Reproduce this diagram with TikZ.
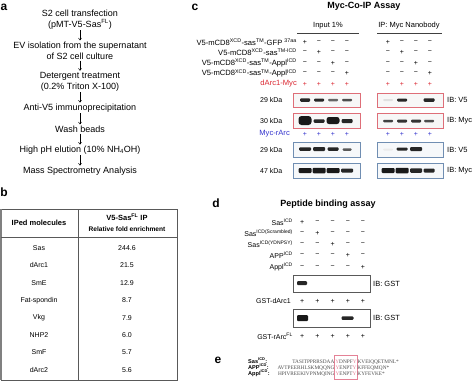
\documentclass[tikz,border=0pt]{standalone}
\usepackage{fontspec}
\setmainfont{Liberation Sans}
\newfontfamily\seqfont{Liberation Serif}
\usetikzlibrary{arrows.meta}

\definecolor{arcred}{RGB}{218,38,48}
\definecolor{arcblue}{RGB}{52,52,205}
\definecolor{boxred}{RGB}{222,110,120}
\definecolor{boxblue}{RGB}{112,142,178}
\definecolor{motifpink}{RGB}{228,130,150}

\tikzset{
  panel/.style={font=\fontsize{12}{12}\selectfont\bfseries, inner sep=0pt},
  title/.style={font=\fontsize{9}{10}\selectfont\bfseries, inner sep=0pt},
  flowtext/.style={align=center, font=\fontsize{9}{11}\selectfont, inner sep=1pt},
  flowarrow/.style={-{Straight Barb[length=2pt,width=3pt]}, line width=0.5pt},
  cell/.style={font=\fontsize{7}{8}\selectfont, inner sep=0pt},
  lab/.style={font=\fontsize{7}{8}\selectfont, anchor=east, inner sep=0pt},
  clab/.style={font=\fontsize{7.6}{8}\selectfont, anchor=east, inner sep=0pt},
  sign/.style={font=\fontsize{7}{8}\selectfont, inner sep=0pt},
  ib/.style={font=\fontsize{7.5}{8}\selectfont, anchor=west, inner sep=0pt},
  blotred/.style={draw=boxred, line width=0.7pt, fill=black!3, inner sep=0pt},
  blotblue/.style={draw=boxblue, line width=0.7pt, fill=boxblue!6, inner sep=0pt},
  blotgrey/.style={draw=black!65, line width=0.6pt, fill=white, inner sep=0pt},
  band/.style={fill=black!85, rounded corners=1pt, inner sep=0pt, minimum width=10pt, minimum height=3pt},
  seq/.style={font=\seqfont\fontsize{5.3}{6}\selectfont, text=black!70, inner sep=0.3pt, text height=3.6pt, text depth=0.6pt},
  seqname/.style={font=\fontsize{5.6}{6}\selectfont\bfseries, anchor=west, inner sep=0pt, text height=3.8pt, text depth=0.6pt},
}

\begin{document}
\begin{tikzpicture}[x=1pt, y=-1pt]
  \useasboundingbox (0,0) rectangle (474,383);

  % a -- workflow
  \node[panel] (pa) at (4,7) {a};
  \node[flowtext] (s1) at (80,19.5) {S2 cell transfection\\(pMT-V5-Sas\textsuperscript{FL})};
  \node[flowtext] (s2) at (80,50.5) {EV isolation from the supernatant\\of S2 cell culture};
  \node[flowtext] (s3) at (80,81.5) {Detergent treatment\\(0.2\% Triton X-100)};
  \node[flowtext] (s4) at (80,108) {Anti-V5 immunoprecipitation};
  \node[flowtext] (s5) at (80,129) {Wash beads};
  \node[flowtext] (s6) at (80,150) {High pH elution (10\% NH\textsubscript{4}OH)};
  \node[flowtext] (s7) at (80,171) {Mass Spectrometry Analysis};

  \draw[flowarrow] (s1) -- (s2);
  \draw[flowarrow] (s2) -- (s3);
  \draw[flowarrow] (s3) -- (s4);
  \draw[flowarrow] (s4) -- (s5);
  \draw[flowarrow] (s5) -- (s6);
  \draw[flowarrow] (s6) -- (s7);

  % b -- table
  \node[panel] (pb) at (4,192) {b};
  \draw[black!65, line width=0.7pt] (1,209) rectangle (177,380);
  \draw[black!50, line width=1.3pt] (1,209) -- (1,380);
  \draw[black!65, line width=0.7pt] (1,237) -- (177,237);
  \draw[black!65, line width=0.7pt] (78,209) -- (78,380);
  \node[font=\fontsize{7.5}{8}\selectfont\bfseries] (hmol) at (39,223) {IPed molecules};
  \node[font=\fontsize{7.5}{8}\selectfont\bfseries] (hip) at (127,217) {V5-Sas\textsuperscript{FL} IP};
  \node[font=\fontsize{6.6}{7}\selectfont\bfseries] (hfold) at (127,229.5) {Relative fold enrichment};
  \foreach \mol/\fold [count=\i from 0] in {Sas/244.6, dArc1/21.5, SmE/12.9, Fat-spondin/8.7, Vkg/7.9, NHP2/6.0, SmF/5.7, dArc2/5.6} {
    \node[cell] (mol\i) at (39,{248+17.4*\i}) {\mol};
    \node[cell] (fold\i) at (127,{248+17.4*\i}) {\fold};
  }

  % c -- Myc Co-IP
  \node[panel] (pc) at (195,7) {c};
  \node[title] (ctitle) at (364,6) {Myc-Co-IP Assay};
  \node[font=\fontsize{7.5}{8}\selectfont] (inhead) at (328,26) {Input 1\%};
  \node[font=\fontsize{7.5}{8}\selectfont] (iphead) at (409,26) {IP: Myc Nanobody};
  \coordinate (inl) at (297,33);  \coordinate (inr) at (359,33);
  \coordinate (ipl) at (377,33);  \coordinate (ipr) at (442,33);
  \draw[black!75, line width=0.9pt] (inl) -- (inr);
  \draw[black!75, line width=0.9pt] (ipl) -- (ipr);

  \node[clab] (cgfp) at (297,42) {V5-mCD8\textsuperscript{XCD}-sas\textsuperscript{TM}-GFP \textsuperscript{37aa}};
  \node[clab] (cicd) at (297,52.5) {V5-mCD8\textsuperscript{XCD}-sas\textsuperscript{TM-ICD}};
  \node[clab] (cappa) at (297,63) {V5-mCD8\textsuperscript{XCD}-sas\textsuperscript{TM}-Appl\textsuperscript{ICD}};
  \node[clab] (cappb) at (297,73.5) {V5-mCD8\textsuperscript{XCD}-sas\textsuperscript{TM}-Appl\textsuperscript{ICD}};
  \node[clab, text=arcred] (cdarc) at (297,84) {dArc1-Myc};
  \node[clab, text=arcblue] (crarc) at (290,134) {Myc-rArc};

  \foreach \s [count=\k] in {+,−,−,−} \node[sign] (inA\k) at ({291+14*\k},42) {\s};
  \foreach \s [count=\k] in {−,+,−,−} \node[sign] (inB\k) at ({291+14*\k},52.5) {\s};
  \foreach \s [count=\k] in {−,−,+,−} \node[sign] (inC\k) at ({291+14*\k},63) {\s};
  \foreach \s [count=\k] in {−,−,−,+} \node[sign] (inD\k) at ({291+14*\k},73.5) {\s};
  \foreach \s [count=\k] in {+,+,+,+} \node[sign, text=arcred] (inE\k) at ({291+14*\k},84) {\s};
  \foreach \s [count=\k] in {+,+,+,+} \node[sign, text=arcblue] (inF\k) at ({291+14*\k},134) {\s};
  \foreach \s [count=\k] in {+,−,−,−} \node[sign] (ipA\k) at ({374+14*\k},42) {\s};
  \foreach \s [count=\k] in {−,+,−,−} \node[sign] (ipB\k) at ({374+14*\k},52.5) {\s};
  \foreach \s [count=\k] in {−,−,+,−} \node[sign] (ipC\k) at ({374+14*\k},63) {\s};
  \foreach \s [count=\k] in {−,−,−,+} \node[sign] (ipD\k) at ({374+14*\k},73.5) {\s};
  \foreach \s [count=\k] in {+,+,+,+} \node[sign, text=arcred] (ipE\k) at ({374+14*\k},84) {\s};
  \foreach \s [count=\k] in {+,+,+,+} \node[sign, text=arcblue] (ipF\k) at ({374+14*\k},134) {\s};

  % blots: dArc1-Myc
  \node[cell, anchor=west] (kd1) at (260,100) {29 kDa};
  \node[cell, anchor=west] (kd2) at (260,120.5) {30 kDa};
  \node[cell, anchor=west] (kd3) at (260,149.5) {29 kDa};
  \node[cell, anchor=west] (kd4) at (260,170.5) {47 kDa};
  \node[ib] (ib1) at (447,100) {IB: V5};
  \node[ib] (ib2) at (447,120.5) {IB: Myc};
  \node[ib] (ib3) at (447,149.5) {IB: V5};
  \node[ib] (ib4) at (447,170.5) {IB: Myc};

  \node[blotred, minimum width=67pt, minimum height=14pt] (inV5a) at (326.5,100) {};
  \node[blotred, minimum width=66pt, minimum height=14pt] (ipV5a) at (410,100) {};
  \node[blotred, minimum width=67pt, minimum height=15pt] (inMyca) at (326.5,120.5) {};
  \node[blotred, minimum width=66pt, minimum height=15pt] (ipMyca) at (410,120.5) {};
  \node[blotblue, minimum width=67pt, minimum height=15pt] (inV5b) at (326.5,149.5) {};
  \node[blotblue, minimum width=66pt, minimum height=15pt] (ipV5b) at (410,149.5) {};
  \node[blotblue, minimum width=67pt, minimum height=15pt] (inMycb) at (326.5,170.5) {};
  \node[blotblue, minimum width=66pt, minimum height=15pt] (ipMycb) at (410,170.5) {};

  \node[band, minimum height=3.5pt] (a1) at (305,100) {};
  \node[band, minimum height=3pt] (a2) at (319,100) {};
  \node[band, fill=black!60, minimum height=2.5pt] (a3) at (333,100) {};
  \node[band, fill=black!70, minimum height=2.5pt] (a4) at (347,100) {};
  \node[band, fill=black!12, minimum height=2pt] (a5) at (388,100) {};
  \node[band, minimum height=3pt] (a6) at (402,100) {};
  \node[band, minimum height=3.5pt, minimum width=11pt] (a7) at (429,100) {};

  \node[band, fill=black!90, minimum width=13pt, minimum height=9pt, rounded corners=3pt] (m1) at (305,120.5) {};
  \node[band, minimum width=11pt, minimum height=3.5pt] (m2) at (319,121) {};
  \node[band, fill=black!90, minimum width=13pt, minimum height=7pt, rounded corners=2.5pt] (m3) at (333,120.5) {};
  \node[band, minimum width=11pt, minimum height=4pt] (m4) at (347,121) {};
  \node[band, fill=black!75, minimum height=2.5pt] (m5) at (388,121) {};
  \node[band, fill=black!80, minimum height=3pt] (m6) at (402,121) {};
  \node[band, fill=black!80, minimum height=3pt] (m7) at (416,121) {};
  \node[band, fill=black!70, minimum height=2.5pt] (m8) at (429,121) {};

  \node[band, minimum width=12pt, minimum height=3.5pt] (r1) at (305,149) {};
  \node[band, minimum width=12pt, minimum height=4pt] (r2) at (319,149) {};
  \node[band, minimum width=11pt, minimum height=3.5pt] (r3) at (333,149) {};
  \node[band, fill=black!65, minimum width=9pt, minimum height=2.5pt] (r4) at (347,149.5) {};
  \node[band, fill=black!8, minimum height=2pt] (r5) at (388,149.5) {};
  \node[band, minimum width=11pt, minimum height=3pt] (r6) at (402,149) {};
  \node[band, minimum width=12pt, minimum height=4pt] (r7) at (416,149) {};

  \node[band, fill=black!90, minimum width=13pt, minimum height=5pt] (n1) at (305,170.5) {};
  \node[band, fill=black!90, minimum width=13pt, minimum height=5.5pt] (n2) at (319,170.5) {};
  \node[band, fill=black!90, minimum width=13pt, minimum height=5pt] (n3) at (333,170.5) {};
  \node[band, fill=black!85, minimum width=12pt, minimum height=4pt] (n4) at (347,170.5) {};
  \node[band, fill=black!90, minimum width=13pt, minimum height=5pt] (n5) at (388,170.5) {};
  \node[band, fill=black!90, minimum width=13pt, minimum height=5.5pt] (n6) at (402,170.5) {};
  \node[band, fill=black!85, minimum width=12pt, minimum height=4.5pt] (n7) at (416,170.5) {};
  \node[band, fill=black!85, minimum width=11pt, minimum height=4pt] (n8) at (429,170.5) {};

  % d -- peptide binding
  \node[panel] (pd) at (216,203) {d};
  \node[title] (dtitle) at (328,204) {Peptide binding assay};
  \node[lab] (dsas) at (293,222) {Sas\textsuperscript{ICD}};
  \node[lab] (dscr) at (293,233) {Sas\textsuperscript{ICD(Scrambled)}};
  \node[lab] (dmut) at (293,244) {Sas\textsuperscript{ICD(YDNPSY)}};
  \node[lab] (dapp) at (293,255.5) {APP\textsuperscript{ICD}};
  \node[lab] (dappl) at (293,267) {Appl\textsuperscript{ICD}};
  \node[lab] (dgst1) at (291,301) {GST-dArc1};
  \node[lab] (dgst2) at (293,336) {GST-rArc\textsuperscript{FL}};

  \foreach \s [count=\k] in {+,−,−,−,−} \node[sign] (pA\k) at ({287+15.2*\k},222) {\s};
  \foreach \s [count=\k] in {−,+,−,−,−} \node[sign] (pB\k) at ({287+15.2*\k},233) {\s};
  \foreach \s [count=\k] in {−,−,+,−,−} \node[sign] (pC\k) at ({287+15.2*\k},244) {\s};
  \foreach \s [count=\k] in {−,−,−,+,−} \node[sign] (pD\k) at ({287+15.2*\k},255.5) {\s};
  \foreach \s [count=\k] in {−,−,−,−,+} \node[sign] (pE\k) at ({287+15.2*\k},267) {\s};
  \foreach \s [count=\k] in {+,+,+,+,+} \node[sign] (pF\k) at ({287+15.2*\k},301) {\s};
  \foreach \s [count=\k] in {+,+,+,+,+} \node[sign] (pG\k) at ({287+15.2*\k},336) {\s};

  \node[blotgrey, minimum width=77pt, minimum height=17pt] (gst1) at (331.5,283.5) {};
  \node[blotgrey, minimum width=77pt, minimum height=18pt] (gst2) at (331.5,318) {};
  \node[band, minimum width=10pt, minimum height=4pt] (g1) at (302,283) {};
  \node[band, fill=black!90, minimum width=11pt, minimum height=6pt] (g2) at (302.5,318) {};
  \node[band, minimum width=12pt, minimum height=3.5pt] (g3) at (347.5,318) {};
  \node[ib] (ib5) at (373,283.5) {IB: GST};
  \node[ib] (ib6) at (373,318) {IB: GST};

  % e -- sequence alignment
  \node[panel] (pe) at (218,360) {e};
  \node[draw=motifpink, line width=0.6pt, minimum width=23pt, minimum height=24pt, inner sep=0pt] (motif) at (346,367) {};
  \node[seqname] (esas) at (248,361.5) {Sas\textsuperscript{ICD}:};
  \node[seqname] (eapp) at (248,367.7) {APP\textsuperscript{ICD}:};
  \node[seqname] (eappl) at (248,373.9) {Appl\textsuperscript{ICD}:};

  \node[seq] (m1c) at (346,361.5) {{\color{motifpink}Y}DNPF{\color{motifpink}Y}};
  \node[seq, anchor=east] (m1l) at (m1c.west) {TASITPPRRSDAA};
  \node[seq, anchor=west] (m1r) at (m1c.east) {KVEIQQETMNL*};
  \node[seq] (m2c) at (346,367.7) {{\color{motifpink}Y}ENPT{\color{motifpink}Y}};
  \node[seq, anchor=east] (m2l) at (m2c.west) {AVTPEERHLSKMQQNG};
  \node[seq, anchor=west] (m2r) at (m2c.east) {KFFEQMQN*};
  \node[seq] (m3c) at (346,373.9) {{\color{motifpink}Y}ENPT{\color{motifpink}Y}};
  \node[seq, anchor=east] (m3l) at (m3c.west) {HPIVREEKIVPNMQING};
  \node[seq, anchor=west] (m3r) at (m3c.east) {KYFEVKE*};
\end{tikzpicture}
\end{document}
